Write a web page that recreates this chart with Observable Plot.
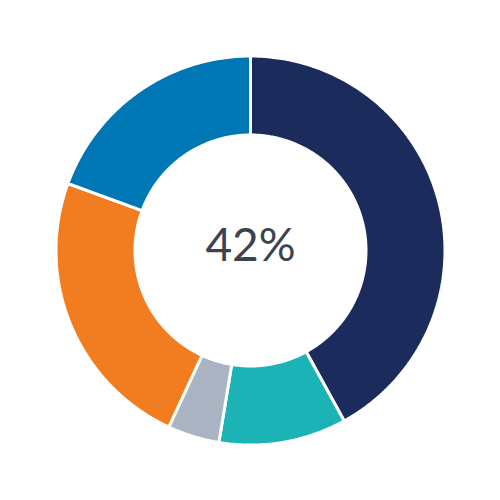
<!DOCTYPE html>
<html>
<head>
<meta charset="utf-8">
<script src="https://cdn.jsdelivr.net/npm/d3@7"></script>
<script src="https://cdn.jsdelivr.net/npm/@observablehq/plot@0.6"></script>
<style>
  html, body { margin: 0; padding: 0; background: #fff; }
</style>
</head>
<body>
<div id="chart"></div>
<script>
const categories = ["A", "B", "C", "D", "E"];
const values = [42, 10.6, 4.3, 23.7, 19.4];
const colors = ["#1b2b5b", "#1bb3b6", "#a9b3c1", "#f27d21", "#0077b5"];
const centerLabel = "42%";

const outerR = 194.5;
const innerR = 115.5;

const pie = d3.pie().sort(null).value(d => d.value)(
  categories.map((c, i) => ({category: c, value: values[i]}))
);

// Build polygon outlines for each slice (in data units = pixels around center)
const rows = [];
pie.forEach(p => {
  const n = Math.max(8, Math.ceil((p.endAngle - p.startAngle) / 0.01));
  const pts = [];
  for (let k = 0; k <= n; k++) {
    const a = p.startAngle + (p.endAngle - p.startAngle) * k / n;
    pts.push([outerR * Math.sin(a), outerR * Math.cos(a)]);
  }
  for (let k = n; k >= 0; k--) {
    const a = p.startAngle + (p.endAngle - p.startAngle) * k / n;
    pts.push([innerR * Math.sin(a), innerR * Math.cos(a)]);
  }
  pts.push(pts[0]);
  pts.forEach(([x, y]) => rows.push({category: p.data.category, x, y}));
});

const chart = Plot.plot({
  width: 500,
  height: 500,
  margin: 0,
  x: {domain: [-250, 250], axis: null},
  y: {domain: [-250, 250], axis: null},
  color: {domain: categories, range: colors},
  marks: [
    Plot.line(rows, {
      x: "x", y: "y", z: "category",
      fill: "category", stroke: "white", strokeWidth: 3,
      strokeLinejoin: "miter", curve: "linear"
    }),
    Plot.text([centerLabel], {
      x: () => 0, y: () => 0, text: d => d,
      fontSize: 46, fill: "#3c434e", dy: -4,
      fontFamily: "Lato, 'Open Sans', sans-serif", fontWeight: 400,
      textAnchor: "middle", lineAnchor: "middle"
    })
  ]
});
document.getElementById("chart").appendChild(chart);
</script>
</body>
</html>
